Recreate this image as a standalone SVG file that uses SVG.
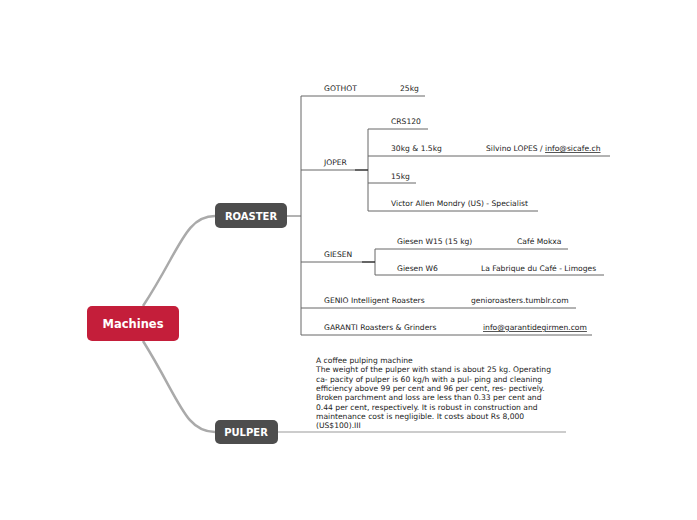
<svg xmlns="http://www.w3.org/2000/svg" width="697" height="520" viewBox="0 0 697 520">
<style>
.t{font-family:"DejaVu Sans",Verdana,sans-serif;font-size:7.6px;fill:#222}
.l{stroke:#666;stroke-width:1;fill:none}
.n{font-family:"DejaVu Sans",Verdana,sans-serif;font-weight:bold;fill:#fff;text-anchor:middle}
</style>
<rect width="697" height="520" fill="#fff"/>
<g id="connectors">
<path d="M143 306 C180 250 185 216 215 216" stroke="#aaa" stroke-width="2.5" fill="none"/>
<path d="M143 341 C180 400 185 432 215 432" stroke="#aaa" stroke-width="2.5" fill="none"/>
<path class="l" d="M287 216 H301 M301 96 V335 M301 96 H425 M301 170 H355 M368 129 V211 M368 129 H428 M368 156 H610 M368 183 H416 M368 211 H538 M301 262 H362 M375 249 V275 M375 249 H568 M375 275 H604 M301 308 H576 M301 335 H592"/>
<path d="M355 170 H368 M362 262 H375" stroke="#333" stroke-width="1.5"/>
<path d="M278 432 H566" stroke="#999" stroke-width="1"/>
</g>
<g id="machines"><rect x="87" y="306" width="92" height="35" rx="5" fill="#c41e3a"/><text class="n" x="133" y="328" font-size="11.5">Machines</text></g>
<g id="roaster"><rect x="215" y="203" width="72" height="25" rx="5" fill="#4d4d4d"/><text class="n" x="251" y="220" font-size="10">ROASTER</text></g>
<g id="pulper"><rect x="215" y="420" width="63" height="24" rx="5" fill="#4d4d4d"/><text class="n" x="246" y="436" font-size="10">PULPER</text></g>
<g id="labels">
<text class="t" x="324" y="91">GOTHOT</text><text class="t" x="400" y="91">25kg</text>
<text class="t" x="324" y="165">JOPER</text>
<text class="t" x="391" y="124">CRS120</text>
<text class="t" x="391" y="151">30kg &amp; 1.5kg</text>
<text class="t" x="486" y="151">Silvino LOPES / <tspan text-decoration="underline">info@sicafe.ch</tspan></text>
<text class="t" x="391" y="179">15kg</text>
<text class="t" x="391" y="206">Victor Allen Mondry (US) - Specialist</text>
<text class="t" x="324" y="257">GIESEN</text>
<text class="t" x="397" y="244">Giesen W15 (15 kg)</text><text class="t" x="517" y="244">Café Mokxa</text>
<text class="t" x="397" y="271">Giesen W6</text><text class="t" x="481" y="271">La Fabrique du Café - Limoges</text>
<text class="t" x="324" y="303">GENIO Intelligent Roasters</text><text class="t" x="471" y="303">genioroasters.tumblr.com</text>
<text class="t" x="324" y="330">GARANTI Roasters &amp; Grinders</text><text class="t" x="483" y="330" text-decoration="underline">info@garantidegirmen.com</text>
<text class="t" x="316" y="363">A coffee pulping machine</text>
<text class="t" x="316" y="372">The weight of the pulper with stand is about 25 kg. Operating</text>
<text class="t" x="316" y="382">ca- pacity of pulper is 60 kg/h with a pul- ping and cleaning</text>
<text class="t" x="316" y="391">efficiency above 99 per cent and 96 per cent, res- pectively.</text>
<text class="t" x="316" y="400">Broken parchment and loss are less than 0.33 per cent and</text>
<text class="t" x="316" y="410">0.44 per cent, respectively. It is robust in construction and</text>
<text class="t" x="316" y="419">maintenance cost is negligible. It costs about Rs 8,000</text>
<text class="t" x="316" y="428">(US$100).III</text>
</g>
</svg>
